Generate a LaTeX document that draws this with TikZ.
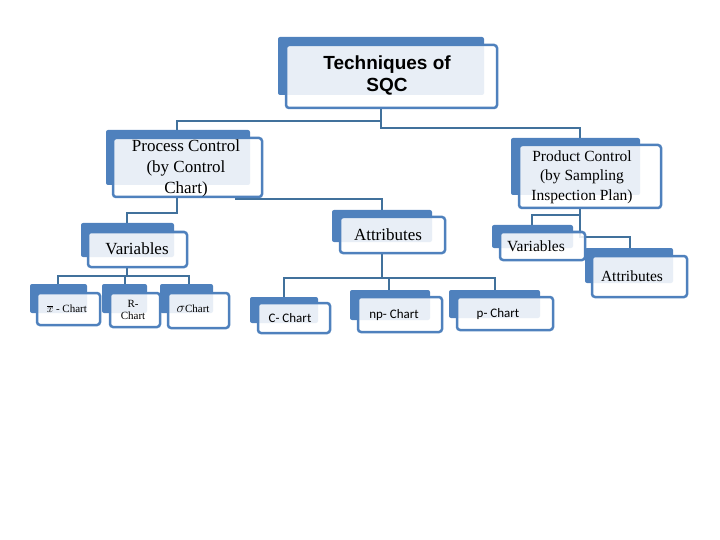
\documentclass[tikz,border=0pt]{standalone}
\usepackage{fontspec}
\setmainfont{Liberation Serif}
\newfontfamily\hd{Liberation Sans}
\newfontfamily\cb{Carlito}
\definecolor{bl}{HTML}{4F81BD}
\definecolor{ln}{HTML}{41719C}
\tikzset{back/.style={fill=bl,draw=none,rounded corners=2pt},
front/.style={draw=bl,line width=2.5pt,fill=white,fill opacity=0.87,text opacity=1,rounded corners=3pt,inner sep=0pt,align=center},
conn/.style={draw=ln,line width=2.5pt}}
\newcommand\mybx[9]{%
\fill[back] (#2,#3) rectangle (#4,#5);
\node[front,minimum width=#8pt-#6pt,minimum height=#9pt-#7pt] (#1) at ({(#6+#8)/2},{(#7+#9)/2}) {};}
\begin{document}
\begin{tikzpicture}[x=1pt,y=-1pt]
\useasboundingbox (0,0) rectangle (720,540);
% connectors
\draw[conn] (381,108) -- (381,121) -| (177,138);
\draw[conn] (381,121) -- (381,128) -| (580,145);
\draw[conn] (177,197) -- (177,213) -| (127,232);
\draw[conn] (235,199) -| (382,217);
\draw[conn] (580,208) -- (580,215) -| (532,232);
\draw[conn] (580,215) -- (580,237) -| (630,256);
\draw[conn] (127,267) -- (127,276);
\draw[conn] (58,293) |- (189,276) -- (189,293);
\draw[conn] (125,276) -- (125,293);
\draw[conn] (382,253) -- (382,278);
\draw[conn] (284,303) |- (495,278) -- (495,297);
\draw[conn] (389,278) -- (389,297);
% boxes
\mybx{top}{278}{37}{484}{95}{286}{45}{497}{108}
\mybx{proc}{106}{130}{250}{185}{113}{138}{262}{197}
\mybx{prod}{511}{138}{640}{195}{519}{145}{661}{208}
\mybx{varl}{81}{223}{174}{257}{88}{232}{187}{267}
\mybx{attm}{332}{210}{432}{242}{340}{217}{445}{253}
\mybx{varr}{492}{225}{573}{248}{500}{232}{585}{260}
\mybx{attr}{585}{248}{673}{283}{592}{256}{687}{297}
\mybx{xb}{30}{284}{87}{313}{37}{293}{100}{325}
\mybx{rc}{102}{284}{147}{313}{110}{293}{160}{327}
\mybx{sc}{160}{284}{213}{313}{168}{293}{229}{328}
\mybx{cc}{250}{297}{318}{323}{258}{303}{330}{333}
\mybx{np}{350}{290}{430}{320}{358}{297}{442}{332}
\mybx{pc}{449}{290}{540}{318}{457}{297}{553}{330}
% texts
\node[align=center,font=\hd\bfseries\fontsize{19}{22}\selectfont] (ttop) at (387,75) {Techniques of\\SQC};
\node[align=center,font=\fontsize{17}{21}\selectfont] (tproc) at (186,168) {Process Control\\(by Control\\Chart)};
\node[align=center,font=\fontsize{15.5}{19.5}\selectfont] (tprod) at (582,177) {Product Control\\(by Sampling\\Inspection Plan)};
\node[font=\fontsize{17}{20}\selectfont] (tvarl) at (137,249) {Variables};
\node[font=\fontsize{17}{20}\selectfont] (tattm) at (388,235) {Attributes};
\node[font=\fontsize{15.5}{19}\selectfont] (tvarr) at (536,246) {Variables};
\node[font=\fontsize{15.5}{19}\selectfont] (tattr) at (632,276) {Attributes};
\node[font=\fontsize{11}{13}\selectfont] (txb) at (67,309) {$\overline{x}$ - Chart};
\node[align=center,font=\fontsize{11}{12}\selectfont] (trc) at (133,310) {R-\\Chart};
\node[font=\fontsize{11}{13}\selectfont] (tsc) at (193,309) {{\Large$\sigma$}Chart};
\node[font=\cb\fontsize{13}{15}\selectfont] (tcc) at (290,318) {C- Chart};
\node[font=\cb\fontsize{13}{15}\selectfont] (tnp) at (394,315) {np- Chart};
\node[font=\cb\fontsize{13}{15}\selectfont] (tpc) at (498,314) {p- Chart};
\end{tikzpicture}
\end{document}
